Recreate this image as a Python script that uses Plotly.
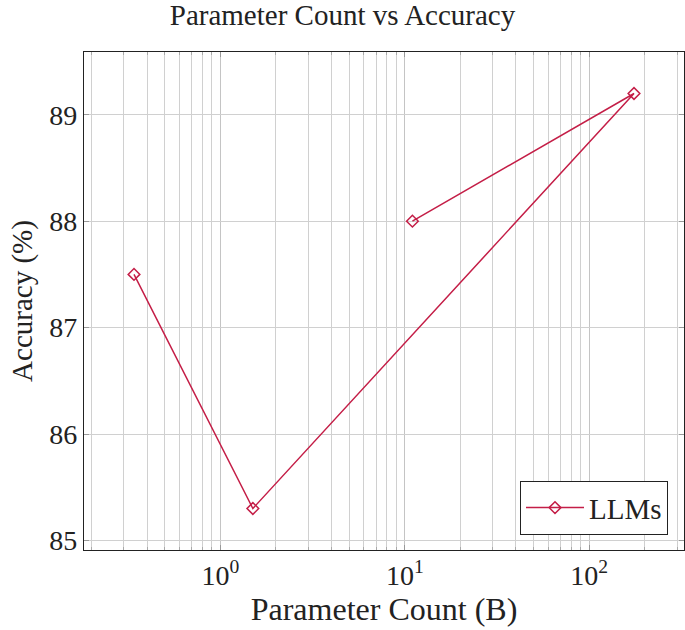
import math
import plotly.graph_objects as go

params_b = [0.34, 1.5, 175, 11]
accuracy = [87.5, 85.3, 89.2, 88.0]
series_name = "LLMs"
x_tickvals = [1, 10, 100]
x_ticktext = ["10<sup>0</sup>", "10<sup>1</sup>", "10<sup>2</sup>"]
x_minor_vals = [m * 10 ** e for e in (-1, 0, 1, 2) for m in range(2, 10)]
y_tickvals = [85, 86, 87, 88, 89]

color = "#C41E47"
font_family = "Liberation Serif, DejaVu Serif, serif"

# pgfplots-style 10% enlargement of limits
lx = [math.log10(v) for v in params_b]
sx = max(lx) - min(lx)
xr = [min(lx) - 0.1 * sx, max(lx) + 0.1 * sx]
sy = max(accuracy) - min(accuracy)
yr = [min(accuracy) - 0.1 * sy, max(accuracy) + 0.1 * sy]

fig = go.Figure()
fig.add_trace(go.Scatter(
    x=params_b, y=accuracy, mode="lines+markers", name=series_name,
    line=dict(color=color, width=1.5),
    marker=dict(symbol="diamond-open", size=9, color=color, line=dict(width=1.5, color=color)),
))

grid_c = "#d0d0d0"
fig.update_layout(
    width=685, height=630,
    paper_bgcolor="white", plot_bgcolor="white",
    margin=dict(l=84, r=1, t=52, b=80),
    font=dict(family=font_family, size=28, color="#222"),
    title=dict(text="Parameter Count vs Accuracy", x=0.5, xanchor="center",
               y=1 - 15 / 630, yanchor="middle", font=dict(size=29)),
    showlegend=True,
    legend=dict(x=0.973, y=0.03, xanchor="right", yanchor="bottom",
                bgcolor="white", bordercolor="#222", borderwidth=1.2,
                font=dict(size=29), itemwidth=58),
)
fig.update_xaxes(
    type="log", range=xr,
    tickvals=x_tickvals, ticktext=x_ticktext,
    showgrid=True, gridcolor="#c4c4c4", gridwidth=1,
    ticks="inside", ticklen=5, tickcolor="#999", mirror="allticks",
    showline=True, linecolor="#222", linewidth=1.3,
    minor=dict(tickvals=x_minor_vals, showgrid=True, gridcolor=grid_c, gridwidth=1,
               ticks="inside", ticklen=3, tickcolor="#aaa"),
    title=dict(text="Parameter Count (B)", font=dict(size=32), standoff=6),
    tickfont=dict(size=28),
    zeroline=False,
)
fig.update_yaxes(
    range=yr, tickvals=y_tickvals,
    showgrid=True, gridcolor=grid_c, gridwidth=1,
    ticks="inside", ticklen=5, tickcolor="#999", mirror="allticks",
    showline=True, linecolor="#222", linewidth=1.3,
    title=dict(text="Accuracy (%)", font=dict(size=29), standoff=8),
    tickfont=dict(size=28),
    zeroline=False,
)
fig.write_html("out.html")
